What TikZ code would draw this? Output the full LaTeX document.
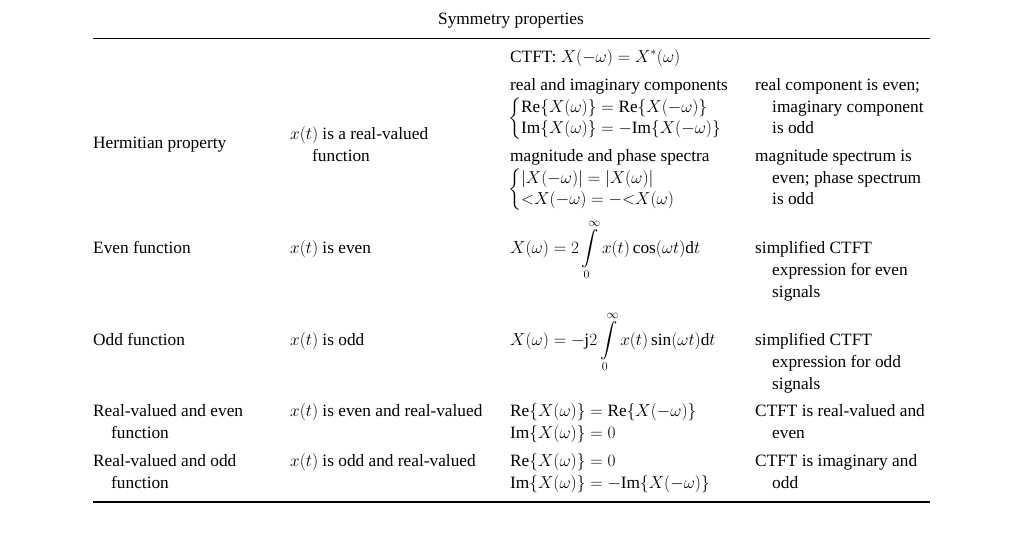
\documentclass[tikz,border=0pt]{standalone}
\usepackage{amsmath}
\usepackage{fontspec}
\setmainfont{Liberation Serif}
\newcounter{tn}
\newcommand{\T}[3]{\stepcounter{tn}\node[txt] (t\arabic{tn}) at (#1,#2) {#3};}
\begin{document}
\begin{tikzpicture}[x=1pt,y=-1pt,
  txt/.style={anchor=base west,inner sep=0pt},
  mth/.style={anchor=west,inner sep=0pt},
  rule/.style={line width=0.9pt}]
\fontsize{17.3}{21}\selectfont
\useasboundingbox (0,0) rectangle (1016,558);
\node[anchor=base,inner sep=0pt] (title) at (511,24) {Symmetry properties};
\coordinate (r1a) at (93,38); \coordinate (r1b) at (930,38);
\draw[rule,line width=0.6pt] (r1a) -- (r1b);
\coordinate (r2a) at (93,502); \coordinate (r2b) at (930,502);
\draw[rule,line width=1.2pt] (r2a) -- (r2b);
% Hermitian
\T{93}{148}{Hermitian property}
\T{290}{139}{$x(t)$ is a real-valued}
\T{312}{161}{function}
\T{510}{62}{CTFT: $X(-\omega)=X^{*}(\omega)$}
\T{510}{90}{real and imaginary components}
\node[mth] (b1) at (508,119) {$\left\{\begin{array}{@{}l@{}}\mathrm{Re}\{X(\omega)\}=\mathrm{Re}\{X(-\omega)\}\\[0pt]\mathrm{Im}\{X(\omega)\}=-\mathrm{Im}\{X(-\omega)\}\end{array}\right.$};
\T{510}{161}{magnitude and phase spectra}
\node[mth] (b2) at (508,190) {$\left\{\begin{array}{@{}l@{}}|X(-\omega)|=|X(\omega)|\\[0pt]{<}X(-\omega)=-{<}X(\omega)\end{array}\right.$};
\T{755}{90}{real component is even;}
\T{772}{112}{imaginary component}
\T{772}{133}{is odd}
\T{755}{161}{magnitude spectrum is}
\T{772}{183}{even; phase spectrum}
\T{772}{204}{is odd}
% Even
\T{93}{253}{Even function}
\T{290}{253}{$x(t)$ is even}
\node[mth] (i1) at (510,250) {$\displaystyle X(\omega)=2\int\limits_0^{\infty}x(t)\cos(\omega t)\mathrm{d}t$};
\T{755}{253}{simplified CTFT}
\T{772}{275}{expression for even}
\T{772}{297}{signals}
% Odd
\T{93}{345}{Odd function}
\T{290}{345}{$x(t)$ is odd}
\node[mth] (i2) at (510,342) {$\displaystyle X(\omega)=-\mathrm{j}2\int\limits_0^{\infty}x(t)\sin(\omega t)\mathrm{d}t$};
\T{755}{345}{simplified CTFT}
\T{772}{367}{expression for odd}
\T{772}{389}{signals}
% Real even
\T{93}{416}{Real-valued and even}
\T{111}{438}{function}
\T{290}{416}{$x(t)$ is even and real-valued}
\T{510}{416}{$\mathrm{Re}\{X(\omega)\}=\mathrm{Re}\{X(-\omega)\}$}
\T{510}{438}{$\mathrm{Im}\{X(\omega)\}=0$}
\T{755}{416}{CTFT is real-valued and}
\T{772}{438}{even}
% Real odd
\T{93}{466}{Real-valued and odd}
\T{111}{488}{function}
\T{290}{466}{$x(t)$ is odd and real-valued}
\T{510}{466}{$\mathrm{Re}\{X(\omega)\}=0$}
\T{510}{488}{$\mathrm{Im}\{X(\omega)\}=-\mathrm{Im}\{X(-\omega)\}$}
\T{755}{466}{CTFT is imaginary and}
\T{772}{488}{odd}
\end{tikzpicture}
\end{document}
